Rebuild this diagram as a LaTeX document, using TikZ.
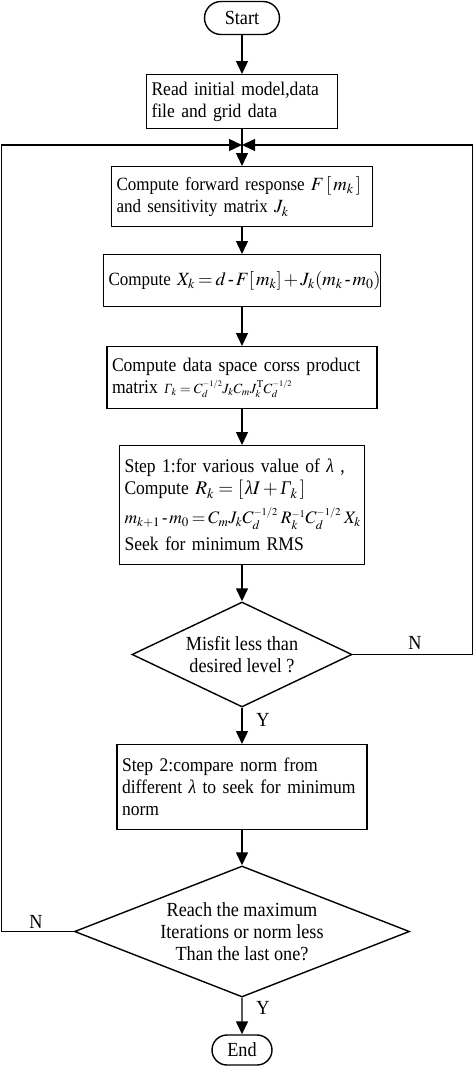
\documentclass[tikz,border=0pt]{standalone}
\usepackage{mathptmx}
\usepackage{fontspec}
\setmainfont{Liberation Serif}[FakeStretch=0.91]
\usetikzlibrary{shapes.geometric,shapes.misc,arrows.meta}
\newcommand{\GamIt}{\mbox{\itshape Γ}}
\newcommand{\lamIt}{\mbox{\itshape λ}}
\newcommand{\hy}{\mathbin{\mbox{-}}}
\newcommand{\mh}{{\scriptscriptstyle -1/2}}
\newcommand{\nohyph}{\hyphenpenalty=10000 \exhyphenpenalty=10000\relax}
\newcommand{\tightmath}{\thickmuskip=3mu plus 1mu\medmuskip=2mu plus 1mu\relax}
\begin{document}
\begin{tikzpicture}[x=1pt,y=-1pt,line width=1.4pt,
  base/.style={font=\fontsize{20}{22}\selectfont},
  boxfont/.style={font=\fontsize{19.3}{22}\selectfont\nohyph},
  small/.style={font=\fontsize{18.7}{22.5}\selectfont\nohyph},
  procbox/.style={boxfont,draw,rectangle,line width=1.4pt,align=left,inner xsep=5pt,inner ysep=0pt,anchor=north},
  termbox/.style={base,draw,rounded rectangle,inner sep=0pt,line width=1.4pt},
  decbox/.style={base,draw,diamond,align=center,inner sep=0pt,line width=1.4pt},
  arr/.style={-{Triangle[length=13pt,width=12pt]}},
  lab/.style={base,inner sep=0pt}]
\useasboundingbox (0,0) rectangle (474,1066);
\node[termbox,minimum width=75pt,minimum height=33pt] (start) at (242,18) {Start};
\node[procbox,text width=181pt,minimum height=54pt] (read) at (242,74) {Read initial model,data\\file and grid data};
\node[procbox,small,text width=251pt,minimum height=60pt] (fwd) at (242,166) {Compute forward response $F\,[\,m_k\,]$\\and sensitivity matrix $J_k$};
\node[procbox,small,text width=267pt,minimum height=52pt] (xk) at (242,254) {\mbox{Compute {\tightmath$X_k = d \hy F[\,m_k] + J_k(m_k \hy m_0)$}}};
\node[procbox,text width=260pt,minimum height=62pt] (gam) at (242,346) {Compute data space corss product\\matrix {\fontsize{14}{15}\selectfont $\GamIt_k = C_d^{\mh}J_kC_mJ_k^{\mathrm{T}}C_d^{\mh}$}};
\node[procbox,text width=235pt,minimum height=119pt] (step1) at (242,445) {Step 1:for various value of \lamIt\ ,\\Compute $R_k=[\,\lamIt I+\GamIt_k\,]$\\[7pt]\mbox{\fontsize{17.5}{20}\selectfont\tightmath$m_{k+1} \hy m_0 = C_mJ_kC_d^{\mh}\;R_k^{\scriptscriptstyle -1}C_d^{\mh}\;X_k$}\\[5pt]Seek for minimum RMS};
\node[decbox,aspect=2.1,minimum width=220pt,minimum height=105pt] (d1) at (242,654.5) {Misfit less than\\desired level ?};
\node[procbox,text width=240pt,minimum height=85pt] (step2) at (242,744) {Step 2:compare norm from\\different \lamIt\ to seek for minimum\\norm};
\node[decbox,aspect=2.56,minimum width=335pt,minimum height=131pt] (d2) at (242,931.5) {Reach the maximum\\Iterations or norm less\\Than the last one?};
\node[termbox,minimum width=60pt,minimum height=30pt] (end) at (242,1050) {End};
\coordinate (J) at (242,145);
\coordinate (R1) at (472.5,654.5);
\coordinate (R2) at (472.5,145);
\coordinate (L1) at (1.5,931.5);
\coordinate (L2) at (1.5,145);
\draw[arr] (start) -- (read);
\draw[arr] (read) -- (fwd);
\draw[arr] (fwd) -- (xk);
\draw[arr] (xk) -- (gam);
\draw[arr] (gam) -- (step1);
\draw[arr] (step1) -- (d1);
\draw[arr] (d1) -- (step2);
\draw[arr] (step2) -- (d2);
\draw[arr] (d2) -- (end);
\draw[arr] (d1.east) -- (R1) -- (R2) -- (J);
\draw[arr] (d2.west) -- (L1) -- (L2) -- (J);
\node[lab] (n1) at (415,643) {N};
\node[lab] (y1) at (263,720) {Y};
\node[lab] (n2) at (36,922) {N};
\node[lab] (y2) at (263,1008) {Y};
\end{tikzpicture}
\end{document}
